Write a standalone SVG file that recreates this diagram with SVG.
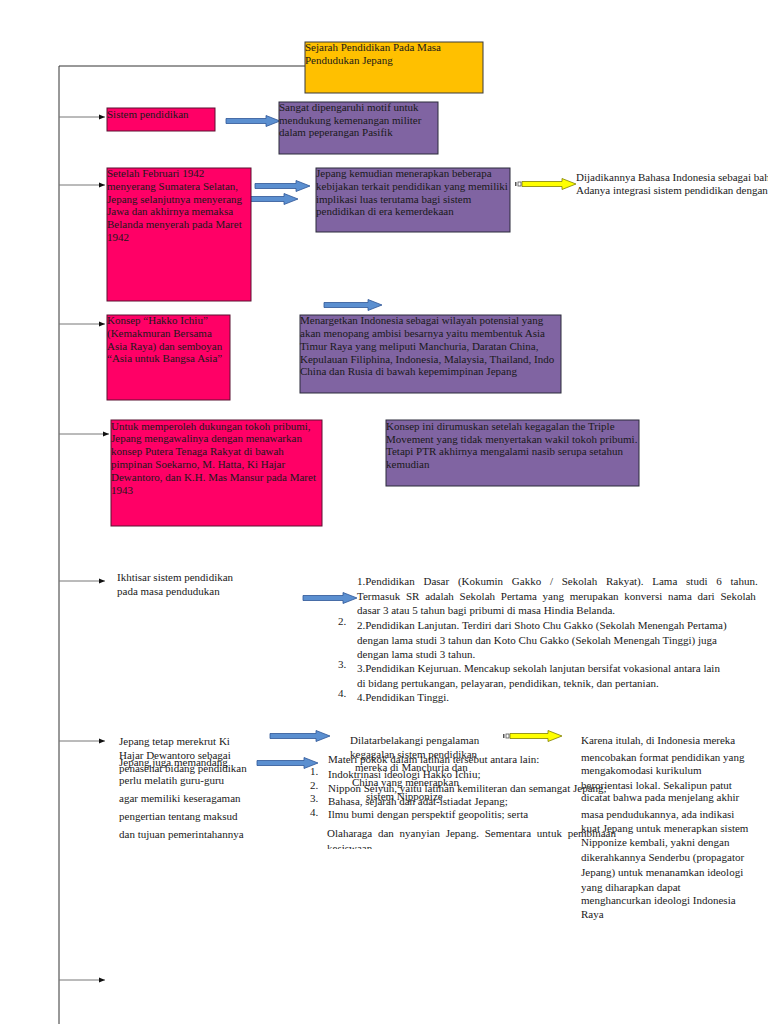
<svg xmlns="http://www.w3.org/2000/svg" width="768" height="1024" viewBox="0 0 768 1024">
<defs>
<style>
text{font-family:"Liberation Serif","Times New Roman",serif;font-size:11px;fill:#1a1a1a}
.pink{fill:#FF0066;stroke:#5a1030;stroke-width:1}
.purple{fill:#8064A2;stroke:#2b2b3a;stroke-width:1}
.title{fill:#FFC000;stroke:#3a3a3a;stroke-width:1}
.conn{stroke:#777;stroke-width:1;fill:none}
.blue{fill:#5B8FD0;stroke:#2F5597;stroke-width:0.8}
.yellow{fill:#FFFF00;stroke:#7F7F00;stroke-width:0.8}
</style>
<marker id="ah" viewBox="0 0 10 10" refX="10" refY="5" markerWidth="6" markerHeight="6" orient="auto" markerUnits="userSpaceOnUse">
<path d="M0,1 L10,5 L0,9 Z" fill="#111"/>
</marker>
<clipPath id="clipK"><rect x="300" y="700" width="300" height="149"/></clipPath>
</defs>
<rect width="768" height="1024" fill="#fff"/>

<g id="connectors">
<path class="conn" d="M59,1024 V66 H305" style="stroke:#333"/>
<line class="conn" x1="59" y1="117" x2="105" y2="117" marker-end="url(#ah)"/>
<line class="conn" x1="59" y1="185" x2="105" y2="185" marker-end="url(#ah)"/>
<line class="conn" x1="59" y1="324" x2="105" y2="324" marker-end="url(#ah)"/>
<line class="conn" x1="59" y1="434" x2="109" y2="434" marker-end="url(#ah)"/>
<line class="conn" x1="59" y1="581" x2="105" y2="581" marker-end="url(#ah)"/>
<line class="conn" x1="59" y1="741" x2="105" y2="741" marker-end="url(#ah)"/>
<line class="conn" x1="59" y1="980" x2="105" y2="980" marker-end="url(#ah)"/>
<path class="blue" d="M226,118.5 H266 V115.5 L280,121 L266,126.5 V123.5 H226 Z"/>
<path class="blue" d="M255,183.5 H296 V180.5 L310,186 L296,191.5 V188.5 H255 Z"/>
<path class="blue" d="M240,196.5 H284 V193.5 L298,199 L284,204.5 V201.5 H240 Z"/>
<path class="blue" d="M324,302.5 H368 V299.5 L382,305 L368,310.5 V307.5 H324 Z"/>
<path class="blue" d="M303,595.5 H343 V592.5 L357,598 L343,603.5 V600.5 H303 Z"/>
<path class="blue" d="M270,733.5 H316 V730.5 L330,736 L316,741.5 V738.5 H270 Z"/>
<path class="blue" d="M257,760.5 H304 V757.5 L318,763 L304,768.5 V765.5 H257 Z"/>
<path class="yellow" d="M522,181.5 H562 V178.5 L576,184 L562,189.5 V186.5 H522 Z"/>
<g fill="#555"><rect x="515" y="182" width="1.5" height="4"/><rect x="518" y="182" width="3" height="4" fill="none" stroke="#555" stroke-width="0.8"/></g>
<path class="yellow" d="M510,733.5 H548 V730.5 L562,736 L548,741.5 V738.5 H510 Z"/>
<g fill="#555"><rect x="503" y="734" width="1.5" height="4"/><rect x="506" y="734" width="3" height="4" fill="none" stroke="#555" stroke-width="0.8"/></g>
</g>

<g id="title">
<rect class="title" x="305" y="42" width="178" height="51"/>
<text x="305" y="51">Sejarah Pendidikan Pada Masa</text>
<text x="305" y="64">Pendudukan Jepang</text>
</g>

<g id="sistem">
<rect class="pink" x="107" y="108" width="108" height="23"/>
<text x="107" y="118">Sistem pendidikan</text>
</g>

<g id="motif">
<rect class="purple" x="279" y="102" width="159" height="52"/>
<text x="279" y="111">Sangat dipengaruhi motif untuk</text>
<text x="279" y="124">mendukung kemenangan militer</text>
<text x="279" y="136">dalam peperangan Pasifik</text>
</g>

<g id="feb1942">
<rect class="pink" x="107" y="168" width="144" height="133"/>
<text x="107" y="177">Setelah Februari 1942</text>
<text x="107" y="190">menyerang Sumatera Selatan,</text>
<text x="107" y="203">Jepang selanjutnya menyerang</text>
<text x="107" y="215">Jawa dan akhirnya memaksa</text>
<text x="107" y="228">Belanda menyerah pada Maret</text>
<text x="107" y="241">1942</text>
</g>

<g id="kebijakan">
<rect class="purple" x="316" y="168" width="194" height="64"/>
<text x="316" y="177">Jepang kemudian menerapkan beberapa</text>
<text x="316" y="190">kebijakan terkait pendidikan yang memiliki</text>
<text x="316" y="203">implikasi luas terutama bagi sistem</text>
<text x="316" y="215">pendidikan di era kemerdekaan</text>
</g>

<g id="dijadikan">
<text x="576" y="181">Dijadikannya Bahasa Indonesia sebagai bahasa resmi</text>
<text x="576" y="194">Adanya integrasi sistem pendidikan dengan</text>
</g>

<g id="hakko">
<rect class="pink" x="107" y="315" width="123" height="85"/>
<text x="107" y="324">Konsep “Hakko Ichiu”</text>
<text x="107" y="337">(Kemakmuran Bersama</text>
<text x="107" y="350">Asia Raya) dan semboyan</text>
<text x="107" y="362">“Asia untuk Bangsa Asia”</text>
</g>

<g id="menargetkan">
<rect class="purple" x="300" y="315" width="261" height="78"/>
<text x="300" y="324">Menargetkan Indonesia sebagai wilayah potensial yang</text>
<text x="300" y="337">akan menopang ambisi besarnya yaitu membentuk Asia</text>
<text x="300" y="350">Timur Raya yang meliputi Manchuria, Daratan China,</text>
<text x="300" y="363">Kepulauan Filiphina, Indonesia, Malaysia, Thailand, Indo</text>
<text x="300" y="375">China dan Rusia di bawah kepemimpinan Jepang</text>
</g>

<g id="putera">
<rect class="pink" x="111" y="420" width="211" height="106"/>
<text x="111" y="430">Untuk memperoleh dukungan tokoh pribumi,</text>
<text x="111" y="442">Jepang mengawalinya dengan menawarkan</text>
<text x="111" y="455">konsep Putera Tenaga Rakyat di bawah</text>
<text x="111" y="468">pimpinan Soekarno, M. Hatta, Ki Hajar</text>
<text x="111" y="481">Dewantoro, dan K.H. Mas Mansur pada Maret</text>
<text x="111" y="494">1943</text>
</g>

<g id="triple">
<rect class="purple" x="386" y="420" width="253" height="66"/>
<text x="386" y="430">Konsep ini dirumuskan setelah kegagalan the Triple</text>
<text x="386" y="443">Movement yang tidak menyertakan wakil tokoh pribumi.</text>
<text x="386" y="455">Tetapi PTR akhirnya mengalami nasib serupa setahun</text>
<text x="386" y="468">kemudian</text>
</g>

<g id="ikhtisar">
<text x="117" y="581">Ikhtisar sistem pendidikan</text>
<text x="117" y="595">pada masa pendudukan</text>
</g>

<g id="jenjang">
<text x="357" y="585" style="word-spacing:6px">1.Pendidikan Dasar (Kokumin Gakko / Sekolah Rakyat). Lama studi 6 tahun.</text>
<text x="357" y="600" style="word-spacing:3px">Termasuk SR adalah Sekolah Pertama yang merupakan konversi nama dari Sekolah</text>
<text x="357" y="614">dasar 3 atau 5 tahun bagi pribumi di masa Hindia Belanda.</text>
<text x="338" y="625">2.</text>
<text x="357" y="629">2.Pendidikan Lanjutan. Terdiri dari Shoto Chu Gakko (Sekolah Menengah Pertama)</text>
<text x="357" y="644">dengan lama studi 3 tahun dan Koto Chu Gakko (Sekolah Menengah Tinggi) juga</text>
<text x="357" y="658">dengan lama studi 3 tahun.</text>
<text x="338" y="668">3.</text>
<text x="357" y="672">3.Pendidikan Kejuruan. Mencakup sekolah lanjutan bersifat vokasional antara lain</text>
<text x="357" y="687">di bidang pertukangan, pelayaran, pendidikan, teknik, dan pertanian.</text>
<text x="338" y="697">4.</text>
<text x="357" y="701">4.Pendidikan Tinggi.</text>
</g>

<g id="dewantoro">
<text x="119" y="745">Jepang tetap merekrut Ki</text>
<text x="119" y="759">Hajar Dewantoro sebagai</text>
<text x="119" y="772">penasehat bidang pendidikan</text>
<text x="119" y="766">Jepang juga memandang</text>
<text x="119" y="784">perlu melatih guru-guru</text>
<text x="119" y="802">agar memiliki keseragaman</text>
<text x="119" y="820">pengertian tentang maksud</text>
<text x="119" y="838">dan tujuan pemerintahannya</text>
</g>

<g id="dilatar">
<text x="350" y="744">Dilatarbelakangi pengalaman</text>
<text x="350" y="758">kegagalan sistem pendidikan</text>
<text x="355" y="771">mereka di Manchuria dan</text>
<text x="352" y="786">China yang menerapkan</text>
<text x="366" y="800">sistem Nipponize</text>
</g>

<g id="materi">
<text x="328" y="763">Materi pokok dalam latihan tersebut antara lain:</text>
<text x="310" y="775">1.</text>
<text x="328" y="778">Indoktrinasi ideologi Hakko Ichiu;</text>
<text x="310" y="789">2.</text>
<text x="328" y="792">Nippon Seiyuh, yaitu latihan kemiliteran dan semangat Jepang;</text>
<text x="310" y="802">3.</text>
<text x="328" y="805">Bahasa, sejarah dan adat-istiadat Jepang;</text>
<text x="310" y="816">4.</text>
<text x="328" y="818">Ilmu bumi dengan perspektif geopolitis; serta</text>
<text x="327" y="837" style="word-spacing:3px">Olaharaga dan nyanyian Jepang. Sementara untuk pembinaan</text>
<text x="327" y="852" clip-path="url(#clipK)">kesiswaan</text>
</g>

<g id="karena">
<text x="581" y="744">Karena itulah, di Indonesia mereka</text>
<text x="581" y="761">mencobakan format pendidikan yang</text>
<text x="581" y="774">mengakomodasi kurikulum</text>
<text x="581" y="789">berorientasi lokal. Sekalipun patut</text>
<text x="581" y="801">dicatat bahwa pada menjelang akhir</text>
<text x="581" y="818">masa pendudukannya, ada indikasi</text>
<text x="581" y="832">kuat Jepang untuk menerapkan sistem</text>
<text x="581" y="846">Nipponize kembali, yakni dengan</text>
<text x="581" y="861">dikerahkannya Senderbu (propagator</text>
<text x="581" y="876">Jepang) untuk menanamkan ideologi</text>
<text x="581" y="891">yang diharapkan dapat</text>
<text x="581" y="904">menghancurkan ideologi Indonesia</text>
<text x="581" y="918">Raya</text>
</g>
</svg>
